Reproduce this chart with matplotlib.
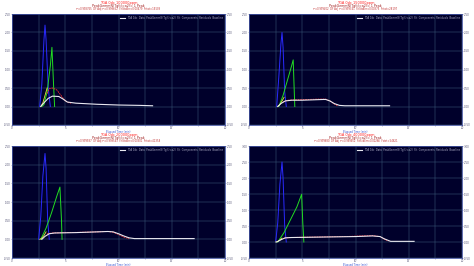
import numpy as np
import matplotlib
matplotlib.use("Agg")
import matplotlib.pyplot as plt

# Titles for the four panels
titles = ["TGA 0dc 100000ppm", "TGA 0dc 150000ppm", "TGA 0dc 200000ppm", "TGA 0dc 400000ppm"]
subtitle = "PeakGemmN(Tg(t)=a2)= 1 Peak"
stats = ["r²=0.998765  DF Adj r²=0.998652  FitStdErr=0.00479  Fstat=19138",
         "r²=0.999402  DF Adj r²=0.999341  FitStdErr=0.00375  Fstat=28197",
         "r²=0.999587  DF Adj r²=0.999543  FitStdErr=0.00301  Fstat=41358",
         "r²=0.999680  DF Adj r²=0.999652  FitStdErr=0.00266  Fstat=54621"]
legend_text = "TGA 0dc  Data  PeakGemmN(Tg(t)=a2)  Fit  Components  Residuals  Baseline"

x_ticks = [0, 5, 10, 15, 20]
y_ticks_a = [-0.5, 0.0, 0.5, 1.0, 1.5, 2.0, 2.5]
y_ticks_b = [-0.5, 0.0, 0.5, 1.0, 1.5, 2.0, 2.5, 3.0]

# panel 1
blue1_x = [2.6, 2.8, 3.0, 3.1, 3.2, 3.4, 3.6]
blue1_y = [0.0, 0.6, 1.8, 2.2, 1.8, 0.5, 0.0]
green1_x = [2.8, 3.0, 3.3, 3.6, 3.75, 3.9, 4.0]
green1_y = [0.0, 0.05, 0.4, 1.1, 1.6, 0.6, 0.0]
yellow1_x = [2.7, 2.9, 3.1, 3.3]
yellow1_y = [0.0, 0.1, 0.3, 0.5]
red1_x = [3.3, 3.5, 3.8, 4.2, 4.6, 5.0, 5.5]
red1_y = [0.35, 0.48, 0.5, 0.45, 0.3, 0.15, 0.08]
white1_x = [2.7, 3.0, 3.4, 3.8, 4.4, 4.8, 5.2, 6, 8, 10, 12, 13.2]
white1_y = [0.0, 0.1, 0.22, 0.28, 0.27, 0.2, 0.12, 0.09, 0.06, 0.04, 0.03, 0.02]

# panel 2
blue2_x = [2.6, 2.8, 3.0, 3.1, 3.2, 3.35, 3.5]
blue2_y = [0.0, 0.8, 1.7, 2.0, 1.6, 0.4, 0.0]
green2_x = [2.8, 3.2, 3.6, 4.0, 4.15, 4.25, 4.3]
green2_y = [0.0, 0.3, 0.7, 1.1, 1.26, 0.4, 0.0]
yellow2_x = [2.7, 2.9, 3.1, 3.3]
yellow2_y = [0.0, 0.05, 0.15, 0.25]
red2_x = [3.2, 3.6, 4.5, 5.5, 6.5, 7.2, 7.6, 8.0, 8.3]
red2_y = [0.12, 0.17, 0.18, 0.19, 0.2, 0.2, 0.15, 0.07, 0.02]
white2_x = [2.7, 3.0, 3.4, 4, 5, 6, 7, 7.2, 7.6, 8.0, 8.5, 9, 10, 12, 13.2]
white2_y = [0.0, 0.08, 0.15, 0.17, 0.17, 0.18, 0.19, 0.19, 0.15, 0.08, 0.03, 0.02, 0.02, 0.02, 0.02]

# panel 3
blue3_x = [2.5, 2.7, 2.9, 3.1, 3.2, 3.35, 3.5]
blue3_y = [0.0, 0.6, 1.7, 2.3, 1.9, 0.5, 0.0]
green3_x = [2.7, 3.2, 3.7, 4.2, 4.5, 4.65, 4.7]
green3_y = [0.0, 0.3, 0.7, 1.15, 1.4, 0.5, 0.0]
yellow3_x = [2.6, 2.8, 3.0, 3.2]
yellow3_y = [0.0, 0.03, 0.1, 0.2]
red3_x = [3.3, 3.8, 5, 6.5, 8, 9, 9.5, 10, 10.5, 11]
red3_y = [0.15, 0.17, 0.18, 0.19, 0.2, 0.21, 0.19, 0.13, 0.06, 0.02]
white3_x = [2.8, 3.1, 3.5, 4, 6, 8, 9, 9.5, 10, 10.5, 11, 11.5, 12, 14, 16, 17.1]
white3_y = [0.0, 0.08, 0.15, 0.17, 0.18, 0.2, 0.21, 0.2, 0.15, 0.09, 0.04, 0.02, 0.02, 0.02, 0.02, 0.02]

# panel 4
blue4_x = [2.5, 2.7, 2.9, 3.1, 3.2, 3.35, 3.5]
blue4_y = [0.0, 0.6, 1.8, 2.5, 2.0, 0.5, 0.0]
green4_x = [2.7, 3.3, 3.9, 4.5, 4.94, 5.05, 5.15]
green4_y = [0.0, 0.3, 0.7, 1.1, 1.49, 0.6, 0.0]
yellow4_x = [2.5, 2.7, 2.9, 3.1]
yellow4_y = [0.0, 0.02, 0.06, 0.12]
red4_x = [3.3, 3.8, 5, 7, 9, 10.5, 11.6, 12.3, 12.7, 13.1]
red4_y = [0.12, 0.14, 0.15, 0.16, 0.17, 0.19, 0.2, 0.17, 0.09, 0.03]
white4_x = [2.6, 3.0, 3.4, 4, 6, 8, 10, 11.6, 12.3, 12.7, 13.3, 14, 15.5]
white4_y = [0.0, 0.07, 0.13, 0.14, 0.15, 0.16, 0.17, 0.19, 0.17, 0.1, 0.02, 0.02, 0.02]

panels = [
    (blue1_x, blue1_y, green1_x, green1_y, yellow1_x, yellow1_y, red1_x, red1_y, white1_x, white1_y, y_ticks_a),
    (blue2_x, blue2_y, green2_x, green2_y, yellow2_x, yellow2_y, red2_x, red2_y, white2_x, white2_y, y_ticks_a),
    (blue3_x, blue3_y, green3_x, green3_y, yellow3_x, yellow3_y, red3_x, red3_y, white3_x, white3_y, y_ticks_a),
    (blue4_x, blue4_y, green4_x, green4_y, yellow4_x, yellow4_y, red4_x, red4_y, white4_x, white4_y, y_ticks_b),
]

W, H = 474, 266
fig = plt.figure(figsize=(W / 100, H / 100), dpi=100)
fig.patch.set_facecolor("white")

# axes rectangles in pixels: left, top, right, bottom
rects = [(12, 14, 225, 125), (249, 14, 462, 125), (12, 146, 225, 258), (249, 146, 462, 258)]
grid_col = "#3f5f7f"
tick_col = "#555577"

for i, (bx, by, gx, gy, yx, yy, rx, ry, wx, wy, yt) in enumerate(panels):
    l, t, r, b = rects[i]
    ax = fig.add_axes([l / W, 1 - b / H, (r - l) / W, (b - t) / H])
    ax.set_facecolor("#00002b")
    ax.set_xlim(0, 20)
    ax.set_ylim(yt[0], yt[-1])
    ax.set_xticks(x_ticks)
    ax.set_xticks(np.arange(0, 21, 2.5), minor=True)
    ax.set_yticks(yt)
    ax.grid(True, which="both", color=grid_col, lw=0.35)
    ax.tick_params(which="both", labelsize=1.9, length=0.7, width=0.3, pad=0.3, colors=tick_col)
    ax.set_yticklabels(["%.2f" % v for v in yt])
    for s in ax.spines.values():
        s.set_color("#4050a0")
        s.set_linewidth(0.4)

    ax.plot(bx, by, color="#2a2aff", lw=0.7)
    ax.plot(gx, gy, color="#22dd22", lw=0.7)
    ax.plot(yx, yy, color="#e8e840", lw=0.6)
    ax.plot(rx, ry, color="#ff3030", lw=0.6, ls=(0, (2, 1)))
    ax.plot(wx, wy, color="#e8e8f0", lw=0.8, label=legend_text)

    leg = ax.legend(loc="upper right", fontsize=1.8, frameon=False, handlelength=2,
                    borderaxespad=0.3)
    for txt in leg.get_texts():
        txt.set_color("#b0b0c8")

    ax.set_xlabel("Elapsed Time (min)", fontsize=1.8, color="#3050d0")
    ax.xaxis.set_label_coords(0.5, -0.042)

    ax2 = ax.twinx()
    ax2.set_ylim(yt[0], yt[-1])
    ax2.set_yticks(yt)
    ax2.set_yticklabels(["%.2f" % v for v in yt])
    ax2.tick_params(labelsize=1.9, length=0.7, width=0.3, pad=0.3, colors=tick_col)
    for s in ax2.spines.values():
        s.set_color("#4050a0")
        s.set_linewidth(0.4)

    cx = (l + r) / 2 / W
    fig.text(cx, 1 - (t - 11.3) / H, titles[i], ha="center", va="center", fontsize=2.5, color="#ff2020")
    fig.text(cx, 1 - (t - 8) / H, subtitle, ha="center", va="center", fontsize=2.3, color="#a02020")
    fig.text(cx, 1 - (t - 4.8) / H, stats[i], ha="center", va="center", fontsize=1.8, color="#c03030")

fig.savefig("out.png", dpi=100)
